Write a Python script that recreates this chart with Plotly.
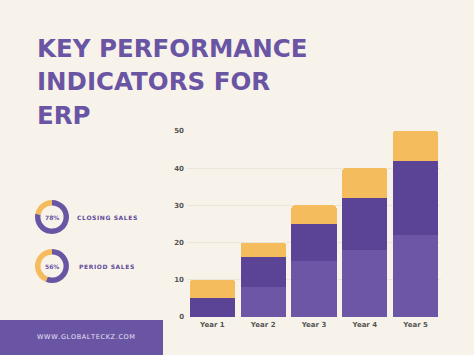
import plotly.graph_objects as go

years = ["Year 1", "Year 2", "Year 3", "Year 4", "Year 5"]
base_vals = [0, 8, 15, 18, 22]
mid_vals = [5, 8, 10, 14, 20]
top_vals = [5, 4, 5, 8, 8]
y_ticks = [0, 10, 20, 30, 40, 50]

kpi_labels = ["CLOSING SALES", "PERIOD SALES"]
kpi_pct = [78, 56]

title_lines = ["KEY PERFORMANCE", "INDICATORS FOR", "ERP"]
footer_text = "WWW.GLOBALTECKZ.COM"

W, H = 474, 355
BG = "#f8f3ea"
PURPLE = "#6a55a4"
LIGHT = "#6e56a6"
DARK = "#5b4495"
YELLOW = "#f5bc5e"

fig = go.Figure()
for vals, col in [(base_vals, LIGHT), (mid_vals, DARK), (top_vals, YELLOW)]:
    fig.add_trace(go.Bar(x=years, y=vals, marker=dict(color=col, line=dict(width=0)),
                         showlegend=False, hoverinfo="skip"))

# donuts
centers = [217, 266]
label_x = [75, 77]
for lab, pct, cy, lx in zip(kpi_labels, kpi_pct, centers, label_x):
    r = 17
    fig.add_trace(go.Pie(values=[pct, 100 - pct], labels=["a", "b"], hole=0.68,
                         sort=False, direction="clockwise", rotation=0,
                         marker=dict(colors=[PURPLE, YELLOW], line=dict(width=0)),
                         textinfo="none", showlegend=False, hoverinfo="skip",
                         domain=dict(x=[(52 - r) / W, (52 + r) / W],
                                     y=[(H - cy - r) / H, (H - cy + r) / H])))
    fig.add_annotation(x=52 / W, y=(H - cy) / H, xref="paper", yref="paper",
                       xanchor="center", yanchor="middle",
                       text=f"<b>{pct}%</b>", showarrow=False,
                       font=dict(family="DejaVu Sans", size=6, color=PURPLE))
    fig.add_annotation(x=lx / W, y=(H - cy) / H, xref="paper", yref="paper",
                       xanchor="left", yanchor="middle",
                       text=f"<b>{'&#8202;'.join(lab)}</b>", showarrow=False,
                       font=dict(family="DejaVu Sans", size=6, color="#5e4a9a"))

# title
for i, line in enumerate(title_lines):
    fig.add_annotation(x=35 / W, y=(H - (48 + 33.5 * i)) / H, xref="paper", yref="paper",
                       xanchor="left", yanchor="middle", text=f"<b>{line}</b>",
                       showarrow=False,
                       font=dict(family="DejaVu Sans", size=24.5, color=PURPLE))

# footer
fig.add_shape(type="rect", xref="paper", yref="paper", x0=0, x1=163 / W,
              y0=0, y1=(H - 320) / H, fillcolor=PURPLE, line=dict(width=0), layer="below")
fig.add_annotation(x=35 / W, y=(H - 337) / H, xref="paper", yref="paper", xanchor="left",
                   yanchor="middle",
                   text="&#8202;".join(footer_text), showarrow=False,
                   font=dict(family="DejaVu Sans", size=6.5, color="#e8e0f5"))

tick_font = dict(family="DejaVu Sans", size=7, color="#555555", weight="bold")
fig.update_layout(
    width=W, height=H, paper_bgcolor=BG, plot_bgcolor=BG,
    margin=dict(l=0, r=0, t=0, b=0, pad=0, autoexpand=False),
    barmode="stack", bargap=0.11, barcornerradius=3,
    xaxis=dict(domain=[187 / W, 441 / W], showgrid=False, showline=False, ticks="",
               automargin=False, tickfont=tick_font, ticklabelstandoff=2),
    yaxis=dict(domain=[38 / H, 224 / H], range=[0, 50], tickvals=y_ticks,
               showgrid=True, gridcolor="#ebe5da", gridwidth=1, zeroline=False,
               automargin=False, tickfont=tick_font, ticklabelstandoff=2),
)
post = """
var de=document.documentElement, b=document.body;
de.style.margin='0';de.style.padding='0';de.style.overflow='hidden';de.style.height='355px';de.style.background='#f8f3ea';
b.style.margin='0';b.style.padding='0';b.style.overflow='hidden';b.style.height='355px';
var gd=document.getElementById('{plot_id}'); if(gd){gd.style.display='block';}
"""
fig.write_html("out.html", config={"displayModeBar": False}, post_script=post)
